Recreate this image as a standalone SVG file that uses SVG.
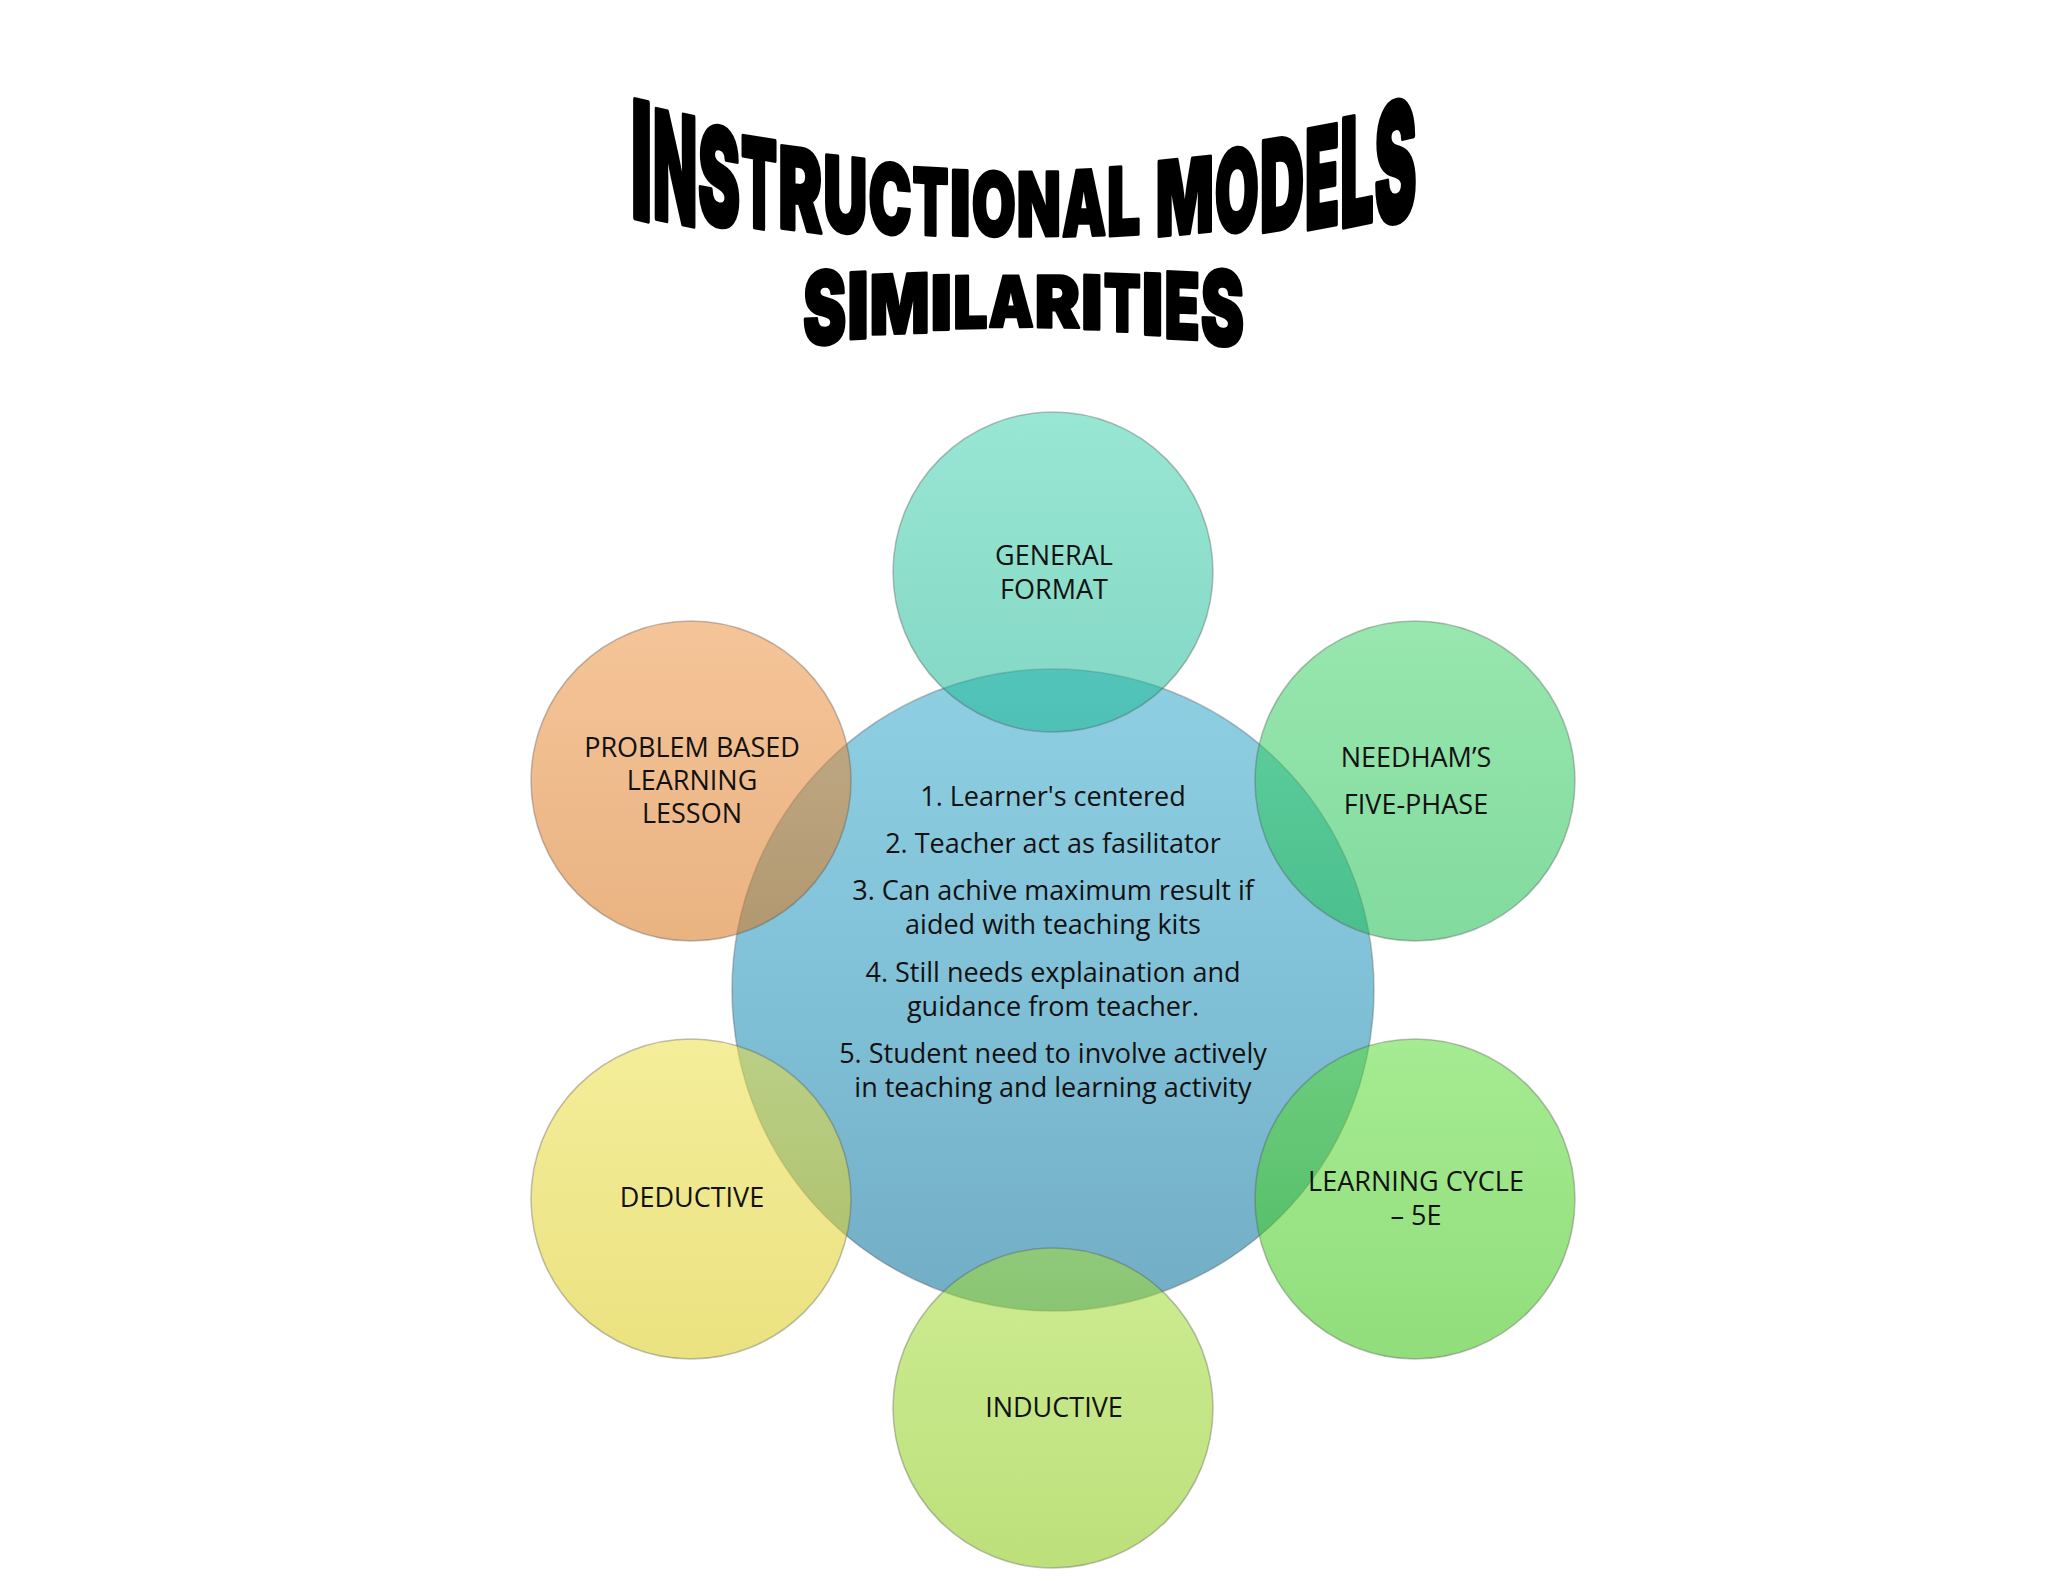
<svg xmlns="http://www.w3.org/2000/svg" width="2048" height="1582" viewBox="0 0 2048 1582">
<defs>
<style>
.lbl{font-family:"Open Sans","Noto Sans","DejaVu Sans",sans-serif;font-size:27px;fill:#111;text-anchor:middle}
.t{font-family:Inter,"Noto Sans","DejaVu Sans",sans-serif;font-size:100px;font-weight:900;fill:#000;stroke:#000;stroke-width:3.5;stroke-linejoin:round}
.ring{stroke:rgba(80,80,80,0.35);stroke-width:1.5}
.outer{fill-opacity:0.55}
</style>
<linearGradient id="gCenter" x1="0" y1="0" x2="0" y2="1">
<stop offset="0" stop-color="#8ECFE2"/><stop offset="0.5" stop-color="#80C1D8"/><stop offset="1" stop-color="#72ADC5"/>
</linearGradient>
<linearGradient id="gTeal" x1="0" y1="0" x2="0" y2="1"><stop offset="0" stop-color="#44D2B1"/><stop offset="1" stop-color="#1CB693"/></linearGradient>
<linearGradient id="gNeed" x1="0" y1="0" x2="0" y2="1"><stop offset="0" stop-color="#42D36C"/><stop offset="1" stop-color="#1CBC4E"/></linearGradient>
<linearGradient id="gCycle" x1="0" y1="0" x2="0" y2="1"><stop offset="0" stop-color="#5CDB38"/><stop offset="1" stop-color="#36C20E"/></linearGradient>
<linearGradient id="gInd" x1="0" y1="0" x2="0" y2="1"><stop offset="0" stop-color="#A4DD38"/><stop offset="1" stop-color="#86C60E"/></linearGradient>
<linearGradient id="gDed" x1="0" y1="0" x2="0" y2="1"><stop offset="0" stop-color="#ECDF46"/><stop offset="1" stop-color="#DAC918"/></linearGradient>
<linearGradient id="gPbl" x1="0" y1="0" x2="0" y2="1"><stop offset="0" stop-color="#EC9444"/><stop offset="1" stop-color="#D8741A"/></linearGradient>
</defs>
<rect width="2048" height="1582" fill="#fff"/>

<g id="title">
<text class="t" transform="matrix(1,0.232,0,1.619,631.0,216.8)" textLength="21" lengthAdjust="spacingAndGlyphs">I</text>
<text class="t" transform="matrix(1,0.211,0,1.493,653.0,217.4)" textLength="44.1" lengthAdjust="spacingAndGlyphs">N</text>
<text class="t" transform="matrix(1,0.184,0,1.345,698.1,221.4)" textLength="42" lengthAdjust="spacingAndGlyphs">S</text>
<text class="t" transform="matrix(1,0.160,0,1.228,741.1,225.0)" textLength="36.1" lengthAdjust="spacingAndGlyphs">T</text>
<text class="t" transform="matrix(1,0.135,0,1.124,778.2,227.2)" textLength="44.1" lengthAdjust="spacingAndGlyphs">R</text>
<text class="t" transform="matrix(1,0.107,0,1.034,823.3,229.9)" textLength="44.1" lengthAdjust="spacingAndGlyphs">U</text>
<text class="t" transform="matrix(1,0.080,0,0.964,868.4,232.1)" textLength="43.2" lengthAdjust="spacingAndGlyphs">C</text>
<text class="t" transform="matrix(1,0.055,0,0.918,912.6,233.9)" textLength="36.1" lengthAdjust="spacingAndGlyphs">T</text>
<text class="t" transform="matrix(1,0.037,0,0.896,949.7,235.1)" textLength="21" lengthAdjust="spacingAndGlyphs">I</text>
<text class="t" transform="matrix(1,0.017,0,0.881,971.7,235.5)" textLength="44.1" lengthAdjust="spacingAndGlyphs">O</text>
<text class="t" transform="matrix(1,-0.011,0,0.881,1016.8,236.2)" textLength="44.1" lengthAdjust="spacingAndGlyphs">N</text>
<text class="t" transform="matrix(1,-0.038,0,0.903,1061.9,236.6)" textLength="44.1" lengthAdjust="spacingAndGlyphs">A</text>
<text class="t" transform="matrix(1,-0.062,0,0.938,1107.0,236.1)" textLength="33.3" lengthAdjust="spacingAndGlyphs">L</text>
<text class="t" transform="matrix(1,-0.100,0,1.027,1155.7,236.4)" textLength="58.1" lengthAdjust="spacingAndGlyphs">M</text>
<text class="t" transform="matrix(1,-0.131,0,1.134,1214.8,234.3)" textLength="44.1" lengthAdjust="spacingAndGlyphs">O</text>
<text class="t" transform="matrix(1,-0.159,0,1.249,1259.9,232.6)" textLength="44.1" lengthAdjust="spacingAndGlyphs">D</text>
<text class="t" transform="matrix(1,-0.1835,0,1.370,1305.0,229.8)" textLength="34.3" lengthAdjust="spacingAndGlyphs">E</text>
<text class="t" transform="matrix(1,-0.205,0,1.488,1340.3,227.7)" textLength="33.3" lengthAdjust="spacingAndGlyphs">L</text>
<text class="t" transform="matrix(1,-0.228,0,1.635,1374.6,226.2)" textLength="42" lengthAdjust="spacingAndGlyphs">S</text>

<text class="t" transform="matrix(1,-0.058,0,1.008,803.0,345.2)" textLength="43.2" lengthAdjust="spacingAndGlyphs">S</text>
<text class="t" transform="matrix(1,-0.048,0,0.912,847.2,339.1)" textLength="21.6" lengthAdjust="spacingAndGlyphs">I</text>
<text class="t" transform="matrix(1,-0.0356,0,0.818,869.8,334.5)" textLength="59.8" lengthAdjust="spacingAndGlyphs">M</text>
<text class="t" transform="matrix(1,-0.0232,0,0.751,930.6,330.0)" textLength="21.6" lengthAdjust="spacingAndGlyphs">I</text>
<text class="t" transform="matrix(1,-0.0146,0,0.723,953.2,328.4)" textLength="34.3" lengthAdjust="spacingAndGlyphs">L</text>
<text class="t" transform="matrix(1,-0.0025,0,0.703,988.5,327.1)" textLength="45.3" lengthAdjust="spacingAndGlyphs">A</text>
<text class="t" transform="matrix(1,0.0113,0,0.714,1034.8,327.3)" textLength="45.3" lengthAdjust="spacingAndGlyphs">R</text>
<text class="t" transform="matrix(1,0.0215,0,0.745,1081.1,329.1)" textLength="21.6" lengthAdjust="spacingAndGlyphs">I</text>
<text class="t" transform="matrix(1,0.0305,0,0.788,1103.7,331.1)" textLength="37.1" lengthAdjust="spacingAndGlyphs">T</text>
<text class="t" transform="matrix(1,0.0395,0,0.845,1141.8,334.5)" textLength="21.6" lengthAdjust="spacingAndGlyphs">I</text>
<text class="t" transform="matrix(1,0.0483,0,0.915,1164.4,337.9)" textLength="35.3" lengthAdjust="spacingAndGlyphs">E</text>
<text class="t" transform="matrix(1,0.0602,0,1.032,1200.7,344.0)" textLength="43.2" lengthAdjust="spacingAndGlyphs">S</text>
</g>

<g id="connectors"/>

<g id="node-center">
<circle class="ring" cx="1053" cy="990" r="321" fill="url(#gCenter)"/>
<text class="lbl" x="1053" y="806">1. Learner's centered</text>
<text class="lbl" x="1053" y="853">2. Teacher act as fasilitator</text>
<text class="lbl" x="1053" y="900">3. Can achive maximum result if</text>
<text class="lbl" x="1053" y="934">aided with teaching kits</text>
<text class="lbl" x="1053" y="982">4. Still needs explaination and</text>
<text class="lbl" x="1053" y="1016">guidance from teacher.</text>
<text class="lbl" x="1053" y="1063">5. Student need to involve actively</text>
<text class="lbl" x="1053" y="1097">in teaching and learning activity</text>
</g>

<g id="node-general-format">
<circle class="ring outer" cx="1053" cy="572" r="160" fill="url(#gTeal)"/>
<text class="lbl" x="1054" y="565">GENERAL</text>
<text class="lbl" x="1054" y="599">FORMAT</text>
</g>

<g id="node-needham">
<circle class="ring outer" cx="1415" cy="781" r="160" fill="url(#gNeed)"/>
<text class="lbl" x="1416" y="767">NEEDHAM’S</text>
<text class="lbl" x="1416" y="814">FIVE-PHASE</text>
</g>

<g id="node-learning-cycle">
<circle class="ring outer" cx="1415" cy="1199" r="160" fill="url(#gCycle)"/>
<text class="lbl" x="1416" y="1191">LEARNING CYCLE</text>
<text class="lbl" x="1416" y="1225">– 5E</text>
</g>

<g id="node-inductive">
<circle class="ring outer" cx="1053" cy="1408" r="160" fill="url(#gInd)"/>
<text class="lbl" x="1054" y="1417">INDUCTIVE</text>
</g>

<g id="node-deductive">
<circle class="ring outer" cx="691" cy="1199" r="160" fill="url(#gDed)"/>
<text class="lbl" x="692" y="1207">DEDUCTIVE</text>
</g>

<g id="node-problem-based">
<circle class="ring outer" cx="691" cy="781" r="160" fill="url(#gPbl)"/>
<text class="lbl" x="692" y="757">PROBLEM BASED</text>
<text class="lbl" x="692" y="790">LEARNING</text>
<text class="lbl" x="692" y="823">LESSON</text>
</g>
</svg>
